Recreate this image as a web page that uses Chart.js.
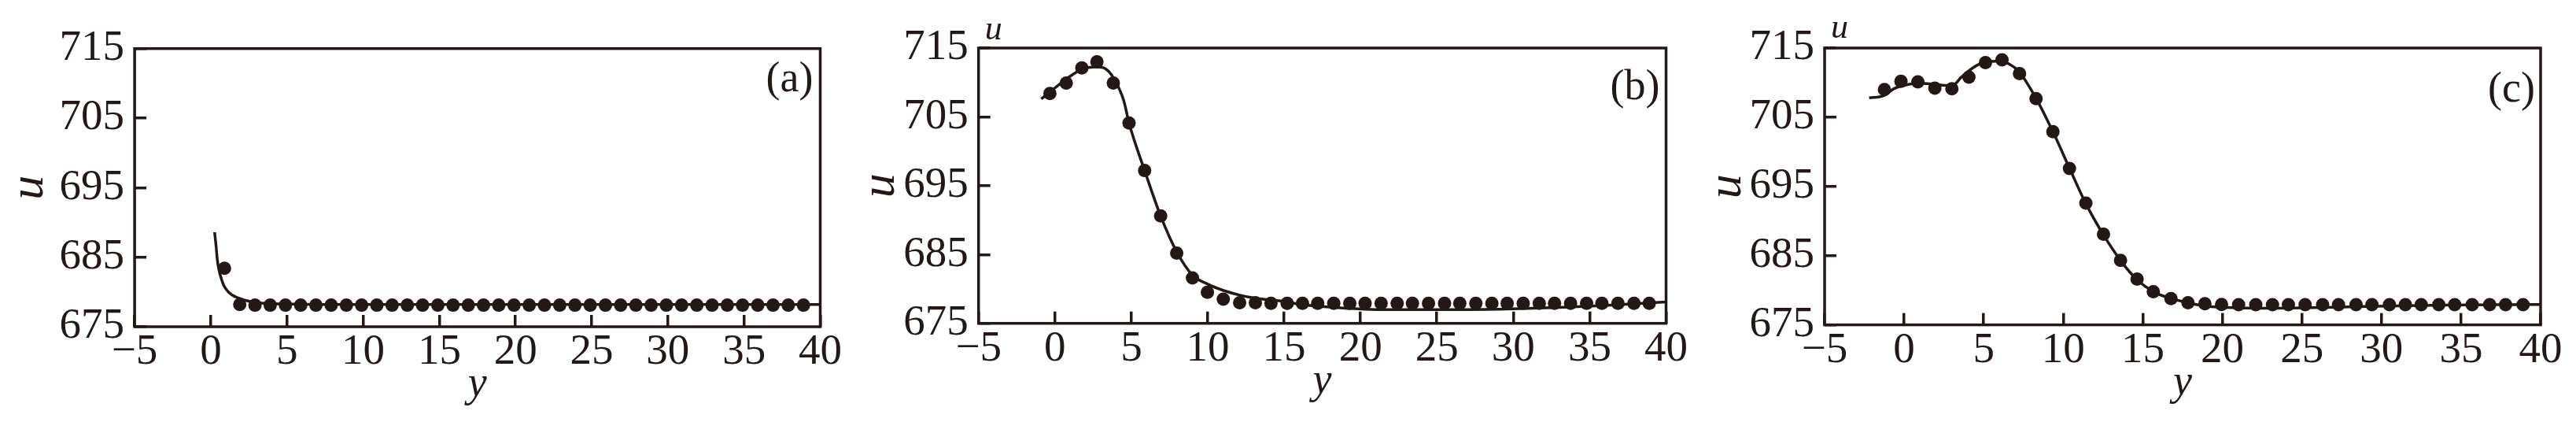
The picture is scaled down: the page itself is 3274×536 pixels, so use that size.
<!DOCTYPE html>
<html>
<head>
<meta charset="utf-8">
<script src="https://cdn.jsdelivr.net/npm/chart.js@4.4.1/dist/chart.umd.min.js"></script>
<style>
  html, body { margin: 0; padding: 0; background: #fff; }
  body { width: 3274px; height: 536px; position: relative; overflow: hidden; }
  canvas { position: absolute; top: 0; }
</style>
</head>
<body>
<canvas id="pa" width="1085" height="536" style="left:0px"></canvas>
<canvas id="pb" width="1075" height="536" style="left:1085px"></canvas>
<canvas id="pc" width="1114" height="536" style="left:2160px"></canvas>
<script>
// panel (a): measured points and fitted curve
const aDotY = [0.9, 1.9, 2.9, 3.9, 4.9, 5.9, 6.9, 7.9, 8.9, 9.9, 10.9, 11.9, 12.9, 13.9, 14.9, 15.9, 16.9, 17.9, 18.9, 19.9,
               20.9, 21.9, 22.9, 23.9, 24.9, 25.9, 26.9, 27.9, 28.9, 29.9, 30.9, 31.9, 32.9, 33.9, 34.9, 35.9, 36.9, 37.9, 38.9];
const aDotU = [683.4, 678.2, 678.1, 678.1, 678.1, 678.1, 678.1, 678.1, 678.1, 678.1, 678.1, 678.1, 678.1, 678.1, 678.1, 678.1, 678.1, 678.1, 678.1, 678.1,
               678.1, 678.1, 678.1, 678.1, 678.1, 678.1, 678.1, 678.1, 678.1, 678.1, 678.1, 678.1, 678.1, 678.1, 678.1, 678.1, 678.1, 678.1, 678.1];
const aLineY = [0.25, 0.35, 0.43, 0.54, 0.68, 0.87, 1.2, 1.62, 2.11, 2.69, 3.35, 4.66, 8, 15, 25, 35, 40];
const aLineU = [688.6, 686.5, 684.6, 683.1, 682.0, 680.85, 679.9, 679.3, 678.9, 678.6, 678.4, 678.28, 678.2, 678.2, 678.2, 678.2, 678.2];

// panel (b)
const bDotY = [-0.33, 0.74, 1.76, 2.75, 3.82, 4.85, 5.87, 6.92, 7.97, 9.0, 9.98, 11.02, 12.09, 13.12, 14.14, 15.2, 16.2, 17.2, 18.25, 19.3,
               20.3, 21.35, 22.4, 23.4, 24.45, 25.5, 26.5, 27.55, 28.6, 29.6, 30.65, 31.7, 32.7, 33.75, 34.8, 35.8, 36.85, 37.9, 38.9];
const bDotU = [708.4, 709.9, 712.1, 713.0, 709.9, 704.1, 697.2, 690.6, 685.2, 681.6, 679.5, 678.5, 678.0, 678.0, 677.9, 677.9, 677.9, 677.9, 677.9, 677.9,
               677.9, 677.9, 677.9, 677.9, 677.9, 677.9, 677.9, 677.9, 677.9, 677.9, 677.9, 677.9, 677.9, 677.9, 677.9, 677.9, 677.9, 677.9, 677.9];
const bLineY = [-0.9, -0.33, 0.74, 1.76, 2.75, 3.3, 3.82, 4.5, 4.85, 5.87, 6.92, 7.97, 9.0, 10.0, 11.0, 12.1, 13.1, 14.1, 15.2, 16.2,
                17.2, 19, 21, 24, 27, 30, 33, 36, 38, 40];
const bLineU = [707.6, 708.6, 710.5, 711.9, 712.25, 712.0, 710.7, 707.4, 704.1, 697.2, 690.6, 685.4, 682.0, 680.7, 679.8, 679.1, 678.65, 678.4, 678.1, 677.7,
                677.5, 677.2, 677.0, 677.0, 677.0, 677.1, 677.3, 677.6, 677.85, 678.1];

// panel (c)
const cDotY = [-1.24, -0.2, 0.86, 1.93, 3.0, 4.07, 5.11, 6.15, 7.25, 8.29, 9.35, 10.39, 11.42, 12.53, 13.6, 14.64, 15.66, 16.77, 17.84, 18.9,
               19.95, 21.02, 22.1, 23.15, 24.15, 25.2, 26.3, 27.3, 28.4, 29.4, 30.5, 31.5, 32.5, 33.6, 34.6, 35.7, 36.8, 37.8, 38.9];
const cDotU = [709.0, 710.2, 710.1, 709.2, 709.1, 710.8, 712.9, 713.3, 711.3, 707.7, 702.9, 697.6, 692.6, 688.1, 684.3, 681.6, 679.8, 678.8, 678.2, 678.05,
               677.95, 677.9, 677.9, 677.9, 677.9, 677.9, 677.9, 677.9, 677.9, 677.9, 677.9, 677.9, 677.9, 677.9, 677.9, 677.9, 677.9, 677.9, 677.9];
const cLineY = [-2.2, -1.3, -0.66, 0, 0.82, 1.8, 2.6, 3.05, 3.6, 4.3, 5.1, 5.9, 6.6, 7.25, 8.25, 9.35, 10.4, 11.4, 12.5, 13.6,
                14.6, 15.7, 16.8, 17.8, 19, 21, 23, 25, 28, 31, 34, 37, 40];
const cLineU = [707.8, 708.1, 709.1, 709.6, 709.9, 709.8, 709.6, 709.6, 710.8, 712.1, 713.0, 713.1, 712.7, 711.5, 707.9, 702.9, 697.6, 692.6, 688.1, 684.3,
                681.6, 679.75, 678.8, 678.2, 677.7, 677.45, 677.4, 677.45, 677.6, 677.75, 677.85, 677.9, 677.95];

// axes
const yMin = -5, yMax = 40, yStep = 5;
const uMin = 675, uMax = 715, uStep = 10;

const INK = '#231815';
const SERIF = '"Liberation Serif", "Times New Roman", serif';

const framePlugin = {
    id: 'frame',
    afterDraw(chart, args, opts) {
        const {ctx, chartArea: a} = chart;
        ctx.save();
        ctx.strokeStyle = INK;
        ctx.lineWidth = 3.5;
        ctx.strokeRect(a.left, a.top, a.right - a.left, a.bottom - a.top);
        ctx.fillStyle = INK;
        ctx.font = '54px ' + SERIF;
        ctx.textAlign = 'right';
        ctx.textBaseline = 'alphabetic';
        ctx.fillText(opts.tag, a.right - opts.tagDx, a.top + opts.tagDy);
        if (opts.topU) {
            ctx.font = 'italic 44px ' + SERIF;
            ctx.textAlign = 'left';
            ctx.fillText('u', a.left + 8, a.top - opts.topUDy);
        }
        ctx.restore();
    }
};

function pairs(xs, ys) {
    return xs.map((x, i) => ({x: x, y: ys[i]}));
}

function tickText(v) {
    return v < 0 ? '\u2212' + Math.abs(v) : String(v);
}

function makePanel(id, dotY, dotU, lineY, lineU, p) {
    const tickFont = {family: SERIF, size: 55, lineHeight: 1.2};
    const grid = {drawOnChartArea: false, drawTicks: true, tickLength: -15, lineWidth: 3.5, color: INK};
    return new Chart(document.getElementById(id), {
        type: 'scatter',
        data: {
            datasets: [
                {
                    data: pairs(lineY, lineU),
                    showLine: true,
                    borderColor: INK,
                    borderWidth: 3.5,
                    pointRadius: 0,
                    cubicInterpolationMode: 'monotone',
                    fill: false
                },
                {
                    data: pairs(dotY, dotU),
                    showLine: false,
                    pointRadius: 8.5,
                    pointBorderWidth: 0,
                    pointBackgroundColor: INK,
                    backgroundColor: INK
                }
            ]
        },
        options: {
            responsive: false,
            animation: false,
            devicePixelRatio: 1,
            layout: {padding: {left: 0, right: p.padRight, top: p.padTop, bottom: 0}},
            plugins: {
                legend: {display: false},
                tooltip: {enabled: false},
                frame: {tag: p.tag, tagDx: p.tagDx, tagDy: p.tagDy, topU: p.topU, topUDy: p.topUDy}
            },
            scales: {
                x: {
                    type: 'linear',
                    min: yMin, max: yMax,
                    afterFit: function (s) { s.height = p.xAxisH; },
                    ticks: {stepSize: yStep, autoSkip: false, maxRotation: 0, padding: 15, color: INK, font: tickFont, callback: tickText},
                    grid: grid,
                    border: {display: false},
                    title: {display: true, text: 'y', color: INK,
                            font: {family: SERIF, size: 54, style: 'italic', lineHeight: 1},
                            padding: {top: 0, bottom: p.xTitlePad}}
                },
                y: {
                    type: 'linear',
                    min: uMin, max: uMax,
                    afterFit: function (s) { s.width = p.yAxisW; },
                    ticks: {stepSize: uStep, autoSkip: false, padding: 28, color: INK, font: tickFont, callback: tickText},
                    grid: grid,
                    border: {display: false},
                    title: {display: true, text: 'u', color: INK,
                            font: {family: SERIF, size: 62, style: 'italic', lineHeight: 1},
                            padding: {top: p.yTitlePad, bottom: 0}}
                }
            }
        },
        plugins: [framePlugin]
    });
}

window.onload = main;

function main() {
    makePanel('pa', aDotY, aDotU, aLineY, aLineU, {
        padTop: 61.7, padRight: 3, yAxisW: 171.1, xAxisH: 121,
        xTitlePad: 20.2, yTitlePad: 6.7, tag: '(a)', tagDx: 9, tagDy: 54, topU: false, topUDy: 0
    });
    makePanel('pb', bDotY, bDotU, bLineY, bLineU, {
        padTop: 57.3, padRight: 4.5, yAxisW: 158.7, xAxisH: 125.3,
        xTitlePad: 24.5, yTitlePad: 3.7, tag: '(b)', tagDx: 8, tagDy: 65, topU: true, topUDy: 11
    });
    makePanel('pc', cDotY, cDotU, cLineY, cLineU, {
        padTop: 59.4, padRight: 45, yAxisW: 159, xAxisH: 123.4,
        xTitlePad: 22.6, yTitlePad: 4.5, tag: '(c)', tagDx: 7, tagDy: 68, topU: true, topUDy: 13
    });
}
</script>
</body>
</html>
